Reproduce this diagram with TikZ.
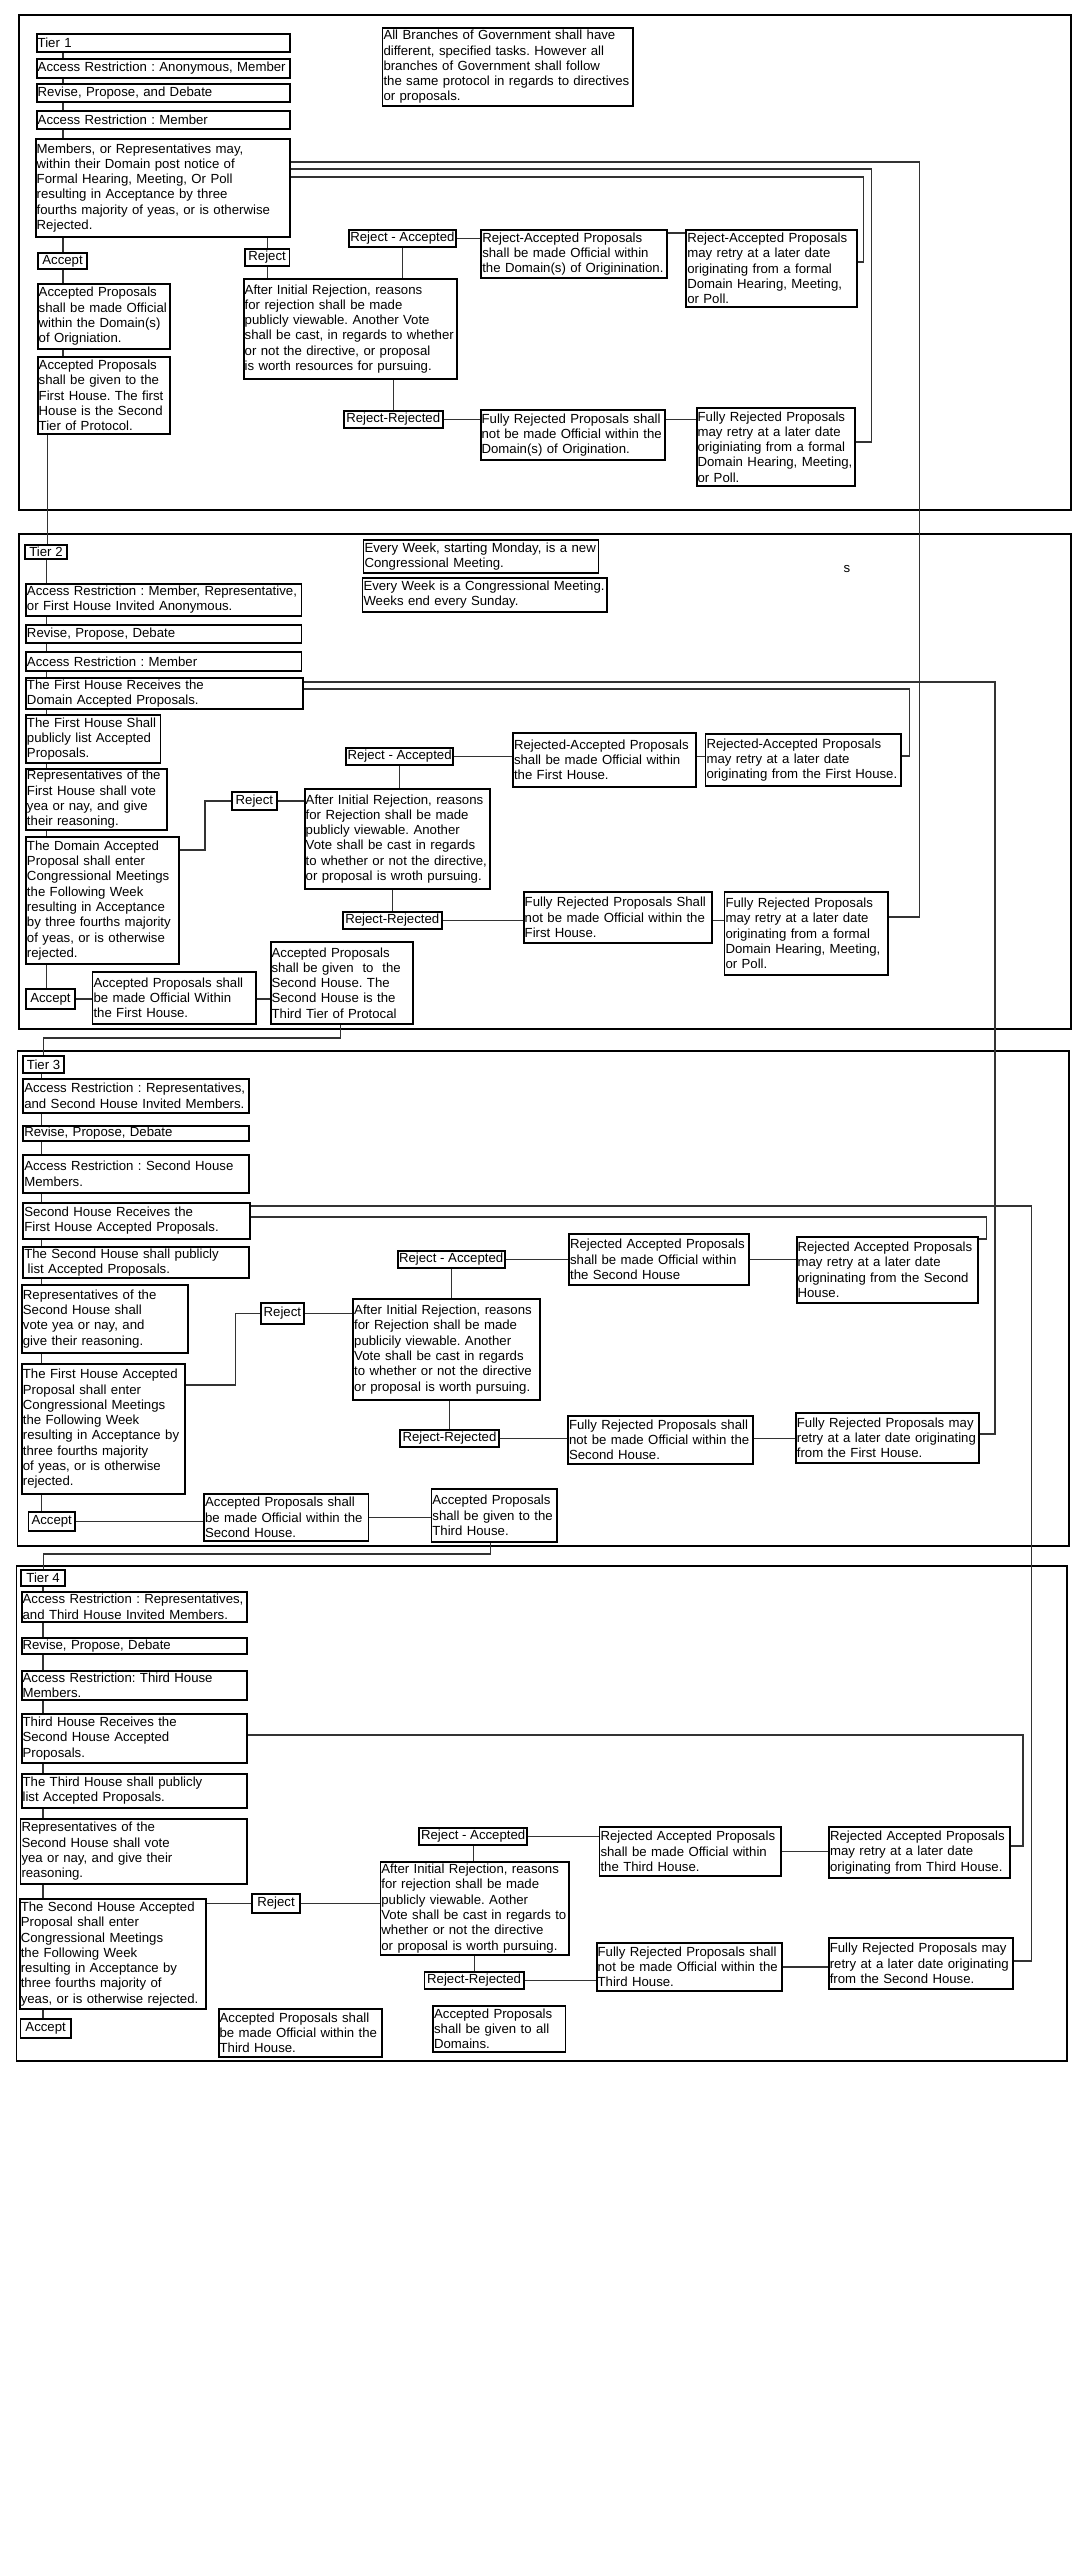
\documentclass[tikz,border=0pt]{standalone}
\usepackage{fontspec}
\setmainfont{Liberation Sans}
\usepackage{tikz}
\frenchspacing

\begin{document}
\begin{tikzpicture}[
    x=1pt, y=-1pt,
    font=\fontsize{13.2}{15.3}\selectfont,
    tierframe/.style={rectangle, draw=black, line width=1.8pt, anchor=north west, inner sep=0pt},
    card/.style={rectangle, draw=black, line width=1.8pt, fill=white, anchor=north west, align=left, inner xsep=1pt, inner ysep=1pt},
    tag/.style={rectangle, draw=black, line width=1.8pt, fill=white, anchor=north west, inner xsep=1.5pt, inner ysep=0.5pt},
    wire/.style={draw=black!80, line width=1.2pt}
]
    \useasboundingbox (0,0) rectangle (1080,2560);

    % tier frames
    \node[tierframe, minimum width=1051.7pt, minimum height=495pt] (f1) at (18.3,14) {};
    \node[tierframe, minimum width=1051.7pt, minimum height=495pt] (f2) at (18.3,533) {};
    \node[tierframe, minimum width=1051.7pt, minimum height=495pt] (f3) at (16.5,1050) {};
    \node[tierframe, minimum width=1050.9pt, minimum height=495pt] (f4) at (15.5,1565) {};

    % tier 1
    \node[card, text width=251.5pt, minimum height=18pt] (t1title) at (35.8,33) {Tier 1};
    \node[card, text width=251.5pt, minimum height=19pt] (t1a1) at (35.8,58) {Access Restriction : Anonymous, Member};
    \node[card, text width=251.5pt, minimum height=18pt] (t1rev) at (35.8,83) {Revise, Propose, and Debate};
    \node[card, text width=251.5pt, minimum height=18pt] (t1a2) at (35.8,110) {Access Restriction : Member};
    \node[card, text width=252.5pt, minimum height=98pt] (t1mem) at (34.8,138) {Members, or Representatives may,\\ within their Domain post notice of\\ Formal Hearing, Meeting, Or Poll\\ resulting in Acceptance by three\\ fourths majority of yeas, or is otherwise\\ Rejected.};
    \node[tag, minimum width=48.9pt, minimum height=16pt] (t1acc) at (37.2,252) {Accept};
    \node[card, text width=130.6pt, minimum height=65pt] (t1off) at (36.8,283) {Accepted Proposals\\ shall be made Official\\ within the Domain(s)\\ of Origniation.};
    \node[card, text width=130.6pt, minimum height=77pt] (t1giv) at (36.8,356) {Accepted Proposals\\ shall be given to the\\ First House. The first\\ House is the Second\\ Tier of Protocol.};
    \node[tag, minimum width=44.8pt, minimum height=17pt] (t1rej) at (243.8,248) {Reject};
    \node[card, text width=211.5pt, minimum height=100pt] (t1aft) at (242.8,278) {After Initial Rejection, reasons\\ for rejection shall be made\\ publicly viewable. Another Vote\\ shall be cast, in regards to whether\\ or not the directive, or proposal\\ is worth resources for pursuing.};
    \node[tag, minimum width=107.5pt, minimum height=17pt] (t1ra) at (347.8,229) {Reject - Accepted};
    \node[tag, minimum width=99.2pt, minimum height=17pt] (t1rr) at (342.7,410) {Reject-Rejected};
    \node[card, text width=183.3pt, minimum height=48pt] (t1raoff) at (480.4,229) {Reject-Accepted Proposals\\ shall be made Official within\\ the Domain(s) of Originination.};
    \node[card, text width=169pt, minimum height=77pt] (t1raret) at (685.4,229) {Reject-Accepted Proposals\\ may retry at a later date\\ originating from a formal\\ Domain Hearing, Meeting,\\ or Poll.};
    \node[card, text width=182.6pt, minimum height=50pt] (t1rroff) at (479.7,409) {Fully Rejected Proposals shall\\ not be made Official within the\\ Domain(s) of Origination.};
    \node[card, text width=156.6pt, minimum height=78pt] (t1rrret) at (695.7,407) {Fully Rejected Proposals\\ may retry at a later date\\ originiating from a formal\\ Domain Hearing, Meeting,\\ or Poll.};
    \node[card, text width=248.2pt, minimum height=78pt] (t1note) at (381.6,27) {All Branches of Government shall have\\ different, specified tasks. However all\\ branches of Government shall follow\\ the same protocol in regards to directives\\ or proposals.};

    % tier 2
    \node[tag, minimum width=42pt, minimum height=14pt] (t2title) at (24.1,544) {Tier 2};
    \node[card, text width=232.9pt, minimum height=33pt] (t2wk1) at (362.6,539) {Every Week, starting Monday, is a new\\ Congressional Meeting.};
    \node[card, text width=242.1pt, minimum height=34pt] (t2wk2) at (361.6,577) {Every Week is a Congressional Meeting.\\ Weeks end every Sunday.};
    \node (stray) at (846.8,569) {s};
    \node[card, text width=273.5pt, minimum height=32pt] (t2a1) at (25.1,583) {Access Restriction : Member, Representative,\\ or First House Invited Anonymous.};
    \node[card, text width=273.5pt, minimum height=18pt] (t2rev) at (25.1,624) {Revise, Propose, Debate};
    \node[card, text width=273.5pt, minimum height=19pt] (t2a2) at (25.1,651) {Access Restriction : Member};
    \node[card, text width=275pt, minimum height=31pt] (t2recv) at (25.1,677) {The First House Receives the\\ Domain Accepted Proposals.};
    \node[card, text width=132.4pt, minimum height=48pt] (t2list) at (25.1,714) {The First House Shall\\ publicly list Accepted\\ Proposals.};
    \node[card, text width=138.9pt, minimum height=61pt] (t2rep) at (25.1,768) {Representatives of the\\ First House shall vote\\ yea or nay, and give\\ their reasoning.};
    \node[card, text width=151.3pt, minimum height=127pt] (t2cong) at (25.1,836) {The Domain Accepted\\ Proposal shall enter\\ Congressional Meetings\\ the Following Week\\ resulting in Acceptance\\ by three fourths majority\\ of yeas, or is otherwise\\ rejected.};
    \node[tag, minimum width=48.9pt, minimum height=20pt] (t2acc) at (25.1,988) {Accept};
    \node[card, text width=161.2pt, minimum height=52pt] (t2off) at (91.6,971) {Accepted Proposals shall\\ be made Official Within\\ the First House.};
    \node[card, text width=140.5pt, minimum height=82pt] (t2giv) at (269.7,941) {Accepted Proposals\\ shall be given\ \ to\ \ the\\ Second House. The\\ Second House is the\\ Third Tier of Protocal};
    \node[tag, minimum width=45.5pt, minimum height=18pt] (t2rej) at (230.7,791) {Reject};
    \node[card, text width=183.2pt, minimum height=100pt] (t2aft) at (303.8,788) {After Initial Rejection, reasons\\ for Rejection shall be made\\ publicly viewable. Another\\ Vote shall be cast in regards\\ to whether or not the directive,\\ or proposal is wroth pursuing.};
    \node[tag, minimum width=106.7pt, minimum height=17pt] (t2ra) at (345.1,747) {Reject - Accepted};
    \node[tag, minimum width=98.8pt, minimum height=17pt] (t2rr) at (342,911) {Reject-Rejected};
    \node[card, text width=180.9pt, minimum height=54pt] (t2raoff) at (512.1,732) {Rejected-Accepted Proposals\\ shall be made Official within\\ the First House.};
    \node[card, text width=193.8pt, minimum height=52pt] (t2raret) at (704.6,733) {Rejected-Accepted Proposals\\ may retry at a later date\\ originating from the First House.};
    \node[card, text width=186.3pt, minimum height=51pt] (t2rroff) at (522.8,891) {Fully Rejected Proposals Shall\\ not be made Official within the\\ First House.};
    \node[card, text width=161.5pt, minimum height=83pt] (t2rrret) at (723.6,891) {Fully Rejected Proposals\\ may retry at a later date\\ originating from a formal\\ Domain Hearing, Meeting,\\ or Poll.};

    % tier 3
    \node[tag, minimum width=40.6pt, minimum height=17pt] (t3title) at (22.4,1055) {Tier 3};
    \node[card, text width=223.6pt, minimum height=34pt] (t3a1) at (22.4,1078) {Access Restriction : Representatives,\\ and Second House Invited Members.};
    \node[card, text width=223.6pt, minimum height=15pt] (t3rev) at (22.4,1125) {Revise, Propose, Debate};
    \node[card, text width=223.6pt, minimum height=38pt] (t3a2) at (22.4,1154) {Access Restriction : Second House\\ Members.};
    \node[card, text width=224.6pt, minimum height=36pt] (t3recv) at (22.4,1202) {Second House Receives the\\ First House Accepted Proposals.};
    \node[card, text width=223.6pt, minimum height=31pt] (t3list) at (22.4,1246) {The Second House shall publicly\\ \hspace*{3.4pt}list Accepted Proposals.};
    \node[card, text width=164pt, minimum height=68pt] (t3rep) at (21,1284) {Representatives of the\\ Second House shall\\ vote yea or nay, and\\ give their reasoning.};
    \node[card, text width=161.2pt, minimum height=130pt] (t3cong) at (21,1363) {The First House Accepted\\ Proposal shall enter\\ Congressional Meetings\\ the Following Week\\ resulting in Acceptance by\\ three fourths majority\\ of yeas, or is otherwise\\ rejected.};
    \node[tag, minimum width=46.4pt, minimum height=19pt] (t3acc) at (27.6,1511) {Accept};
    \node[card, text width=162.3pt, minimum height=47pt] (t3off) at (203.2,1493) {Accepted Proposals shall\\ be made Official within the\\ Second House.};
    \node[card, text width=123.9pt, minimum height=53pt] (t3giv) at (430.5,1488) {Accepted Proposals\\ shall be given to the\\ Third House.};
    \node[tag, minimum width=43pt, minimum height=21pt] (t3rej) at (260,1302) {Reject};
    \node[card, text width=184.6pt, minimum height=101pt] (t3aft) at (352.3,1298) {After Initial Rejection, reasons\\ for Rejection shall be made\\ publicily viewable. Another\\ Vote shall be cast in regards\\ to whether or not the directive\\ or proposal is worth pursuing.};
    \node[tag, minimum width=106.8pt, minimum height=17pt] (t3ra) at (396.7,1250) {Reject - Accepted};
    \node[tag, minimum width=99.5pt, minimum height=17pt] (t3rr) at (398.8,1429) {Reject-Rejected};
    \node[card, text width=177.7pt, minimum height=51pt] (t3raoff) at (568.2,1233) {Rejected Accepted Proposals\\ shall be made Official within\\ the Second House};
    \node[card, text width=179.4pt, minimum height=66pt] (t3raret) at (795.7,1236) {Rejected Accepted Proposals\\ may retry at a later date\\ origninating from the Second\\ House.};
    \node[card, text width=183pt, minimum height=48pt] (t3rroff) at (567.1,1415) {Fully Rejected Proposals shall\\ not be made Official within the\\ Second House.};
    \node[card, text width=181.2pt, minimum height=50pt] (t3rrret) at (795,1412) {Fully Rejected Proposals may\\ retry at a later date originating\\ from the First House.};

    % tier 4
    \node[tag, minimum width=44.4pt, minimum height=16pt] (t4title) at (20,1569) {Tier 4};
    \node[card, text width=223.5pt, minimum height=30pt] (t4a1) at (20.7,1591) {Access Restriction : Representatives,\\ and Third House Invited Members.};
    \node[card, text width=223.5pt, minimum height=16pt] (t4rev) at (20.7,1637) {Revise, Propose, Debate};
    \node[card, text width=223.5pt, minimum height=29pt] (t4a2) at (20.7,1670) {Access Restriction: Third House\\ Members.};
    \node[card, text width=223.5pt, minimum height=49pt] (t4recv) at (20.7,1713) {Third House Receives the\\ Second House Accepted\\ Proposals.};
    \node[card, text width=223.5pt, minimum height=34pt] (t4list) at (20.7,1773) {The Third House shall publicly\\ list Accepted Proposals.};
    \node[card, text width=224.6pt, minimum height=65pt] (t4rep) at (19.6,1818) {Representatives of the\\ Second House shall vote\\ yea or nay, and give their\\ reasoning.};
    \node[card, text width=184pt, minimum height=110pt] (t4cong) at (18.9,1898) {The Second House Accepted\\ Proposal shall enter\\ Congressional Meetings\\ the Following Week\\ resulting in Acceptance by\\ three fourths majority of\\ yeas, or is otherwise rejected.};
    \node[tag, minimum width=50.3pt, minimum height=19pt] (t4acc) at (19.6,2018) {Accept};
    \node[card, text width=161.5pt, minimum height=48pt] (t4off) at (217.7,2008) {Accepted Proposals shall\\ be made Official within the\\ Third House.};
    \node[card, text width=130.4pt, minimum height=46pt] (t4giv) at (432.2,2005) {Accepted Proposals\\ shall be given to all\\ Domains.};
    \node[tag, minimum width=47.5pt, minimum height=19pt] (t4rej) at (251.4,1893) {Reject};
    \node[card, text width=186.7pt, minimum height=93pt] (t4aft) at (379.5,1861) {After Initial Rejection, reasons\\ for rejection shall be made\\ publicly viewable. Aother\\ Vote shall be cast in regards to\\ whether or not the directive\\ or proposal is worth pursuing.};
    \node[tag, minimum width=107.8pt, minimum height=17pt] (t4ra) at (418.4,1827) {Reject - Accepted};
    \node[tag, minimum width=99.2pt, minimum height=17pt] (t4rr) at (423.6,1971) {Reject-Rejected};
    \node[card, text width=179.4pt, minimum height=49pt] (t4raoff) at (598.6,1826) {Rejected Accepted Proposals\\ shall be made Official within\\ the Third House.};
    \node[card, text width=179.1pt, minimum height=51pt] (t4raret) at (828.2,1826) {Rejected Accepted Proposals\\ may retry at a later date\\ originating from Third House.};
    \node[card, text width=183.7pt, minimum height=48pt] (t4rroff) at (595.7,1942) {Fully Rejected Proposals shall\\ not be made Official within the\\ Third House.};
    \node[card, text width=181.9pt, minimum height=51pt] (t4rrret) at (827.9,1937) {Fully Rejected Proposals may\\ retry at a later date originating\\ from the Second House.};

    % spines
    \coordinate (s1) at (63,0);
    \coordinate (s2) at (46.5,0);
    \coordinate (s3) at (41.3,0);
    \coordinate (s4) at (43,0);
    \foreach \a/\b in {t1title/t1a1, t1a1/t1rev, t1rev/t1a2, t1a2/t1mem, t1mem/t1acc, t1acc/t1off, t1off/t1giv}
        \draw[wire] (\a.south -| s1) -- (\b.north -| s1);
    \foreach \a/\b in {t2title/t2a1, t2a1/t2rev, t2rev/t2a2, t2a2/t2recv, t2recv/t2list, t2list/t2rep, t2rep/t2cong, t2cong/t2acc}
        \draw[wire] (\a.south -| s2) -- (\b.north -| s2);
    \foreach \a/\b in {t3title/t3a1, t3a1/t3rev, t3rev/t3a2, t3a2/t3recv, t3recv/t3list, t3list/t3rep, t3rep/t3cong, t3cong/t3acc}
        \draw[wire] (\a.south -| s3) -- (\b.north -| s3);
    \foreach \a/\b in {t4title/t4a1, t4a1/t4rev, t4rev/t4a2, t4a2/t4recv, t4recv/t4list, t4list/t4rep, t4rep/t4cong, t4cong/t4acc}
        \draw[wire] (\a.south -| s4) -- (\b.north -| s4);

    % between tiers
    \coordinate (d1) at (47.2,0);
    \coordinate (d2) at (340.3,1038);
    \coordinate (d3) at (490.1,1554);
    \draw[wire] (t1giv.south -| d1) -- (t2title.north -| d1);
    \draw[wire] (t2giv.south -| d2) -- (d2) -| (t3title.north);
    \draw[wire] (t3giv.south -| d3) -- (d3) -| (t4title.north);

    % reject branches
    \draw[wire] (t1mem.south -| t1rej.north) -- (t1rej.north);
    \draw[wire] (t1rej.south) -- (t1rej.south |- t1aft.north);
    \coordinate (k2) at (204.9,850);
    \draw[wire] ([yshift=-14pt]t2cong.north east) -- (k2) |- (t2rej.west);
    \draw[wire] (t2rej.east) -- (t2rej.east -| t2aft.west);
    \coordinate (k3) at (235.2,1385);
    \draw[wire] ([yshift=-22pt]t3cong.north east) -- (k3) |- (t3rej.west);
    \draw[wire] (t3rej.east) -- (t3rej.east -| t3aft.west);
    \draw[wire] (t4rej.west -| t4cong.east) -- (t4rej.west);
    \draw[wire] (t4rej.east) -- (t4rej.east -| t4aft.west);

    \foreach \t in {t1,t2,t3,t4} {
        \draw[wire] (\t ra.south) -- (\t ra.south |- \t aft.north);
        \draw[wire] (\t rr.north) -- (\t rr.north |- \t aft.south);
        \draw[wire] (\t ra.east) -- (\t ra.east -| \t raoff.west);
        \draw[wire] (\t rr.east) -- (\t rr.east -| \t rroff.west);
    }
    \draw[wire] ([yshift=-4pt]t1raoff.north east) -- ([yshift=-4pt]t1raoff.north east -| t1raret.west);
    \draw[wire] (t1rr.east -| t1rroff.east) -- (t1rr.east -| t1rrret.west);
    \draw[wire] (t2ra.east -| t2raoff.east) -- (t2ra.east -| t2raret.west);
    \draw[wire] (t2rr.east -| t2rroff.east) -- (t2rr.east -| t2rrret.west);
    \draw[wire] (t3ra.east -| t3raoff.east) -- (t3ra.east -| t3raret.west);
    \draw[wire] (t3rr.east -| t3rroff.east) -- (t3rr.east -| t3rrret.west);
    \draw[wire] (t4raoff.east) -- (t4raoff.east -| t4raret.west);
    \draw[wire] (t4rroff.east) -- (t4rroff.east -| t4rrret.west);

    % accept branches
    \draw[wire] (t2acc.east) -- (t2acc.east -| t2off.west);
    \draw[wire] (t2acc.east -| t2off.east) -- (t2acc.east -| t2giv.west);
    \draw[wire] (t3acc.east) -- (t3acc.east -| t3off.west);
    \draw[wire] (t3off.east) -- (t3off.east -| t3giv.west);

    % retry loops
    \coordinate (k1a) at (919.3,162);
    \coordinate (k1b) at (871.8,169);
    \coordinate (k1c) at (863.6,177);
    \draw[wire] ([yshift=-24pt]t1mem.north east) -- (k1a) |- ([yshift=-26pt]t2rrret.north east);
    \draw[wire] ([yshift=-31pt]t1mem.north east) -- (k1b) |- ([yshift=-35pt]t1rrret.north east);
    \draw[wire] ([yshift=-39pt]t1mem.north east) -- (k1c) |- ([yshift=-33pt]t1raret.north east);
    \coordinate (k2a) at (995,682);
    \coordinate (k2b) at (909.3,689);
    \draw[wire] ([yshift=-5pt]t2recv.north east) -- (k2a) |- ([yshift=-22pt]t3rrret.north east);
    \draw[wire] ([yshift=-12pt]t2recv.north east) -- (k2b) |- ([yshift=-23pt]t2raret.north east);
    \coordinate (k3a) at (1031.8,1206);
    \coordinate (k3b) at (986.1,1217);
    \draw[wire] ([yshift=-4pt]t3recv.north east) -- (k3a) |- ([yshift=-24pt]t4rrret.north east);
    \draw[wire] ([yshift=-15pt]t3recv.north east) -- (k3b) |- ([yshift=-3pt]t3raret.north east);
    \coordinate (k4) at (1022.9,1735);
    \draw[wire] ([yshift=-22pt]t4recv.north east) -- (k4) |- ([yshift=-20pt]t4raret.north east);
\end{tikzpicture}
\end{document}
